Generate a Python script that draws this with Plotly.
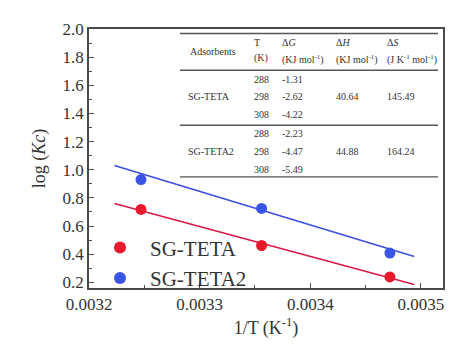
import plotly.graph_objects as go

# ---------------- data ----------------
inv_T = [0.003247, 0.003356, 0.003472]          # 1/T (K^-1) for 308, 298, 288 K
logkc_teta = [0.718, 0.462, 0.239]              # SG-TETA
logkc_teta2 = [0.930, 0.725, 0.408]             # SG-TETA2
fit_x = [0.003223, 0.003494]                    # fitted line extent
fit_teta = [0.761, 0.185]
fit_teta2 = [1.030, 0.384]

series_names = ["SG-TETA", "SG-TETA2"]

# inset table values
tbl_header_T = ["T", "(K)"]
tbl_groups = ["SG-TETA", "SG-TETA2"]
tbl_T = ["288", "298", "308"]
tbl_dG = [["-1.31", "-2.62", "-4.22"], ["-2.23", "-4.47", "-5.49"]]
tbl_dH = ["40.64", "44.88"]
tbl_dS = ["145.49", "164.24"]

RED = "#E8192C"
BLUE = "#3A55E6"
RED_LINE = "#D91A45"
BLUE_LINE = "#3B4FE0"
AX = "#4a4a4a"
TXT = "#333333"
SERIF = "Liberation Serif, Times New Roman, serif"

# page has an 8px body margin: compensate so the plot lands where the reference has it
OFF = 8
W, H = 474 - 2 * OFF, 363 - 2 * OFF
L, R, T, B = 89, 443, 27, 288           # plot area in reference page pixels


def px(x):
    return (x - L) / (R - L)


def py(y):
    return (B - y) / (B - T)


fig = go.Figure()

fig.add_trace(go.Scatter(x=fit_x, y=fit_teta, mode="lines",
                         line=dict(color=RED_LINE, width=1.6),
                         showlegend=False, hoverinfo="skip"))
fig.add_trace(go.Scatter(x=fit_x, y=fit_teta2, mode="lines",
                         line=dict(color=BLUE_LINE, width=1.6),
                         showlegend=False, hoverinfo="skip"))
fig.add_trace(go.Scatter(x=inv_T, y=logkc_teta, mode="markers", name=series_names[0],
                         marker=dict(color=RED, size=11)))
fig.add_trace(go.Scatter(x=inv_T, y=logkc_teta2, mode="markers", name=series_names[1],
                         marker=dict(color=BLUE, size=11)))

# ---------------- inset table ----------------
ann = []
tf = dict(family=SERIF, size=10, color=TXT)


def txt(x, y, s, anchor="left"):
    ann.append(dict(x=px(x), y=py(y), xref="paper", yref="paper", text=s,
                    showarrow=False, xanchor=anchor, yanchor="middle", font=tf))


txt(213, 50, "Adsorbents", "center")
txt(252, 41, tbl_header_T[0])
txt(252, 56, tbl_header_T[1])
txt(280, 41, "Δ<i>G</i>")
txt(280, 58, "(KJ mol<sup>-1</sup>)")
txt(334, 41, "Δ<i>H</i>")
txt(334, 58, "(KJ mol<sup>-1</sup>)")
txt(385, 41, "Δ<i>S</i>")
txt(385, 58, "(J K<sup>-1</sup> mol<sup>-1</sup>)")

row_y = [[78, 95.5, 113.5], [132.5, 150.5, 168.5]]
for g in range(2):
    txt(186, row_y[g][1], tbl_groups[g])
    txt(334, row_y[g][1], tbl_dH[g])
    txt(385, row_y[g][1], tbl_dS[g])
    for i in range(3):
        txt(252, row_y[g][i], tbl_T[i])
        txt(280, row_y[g][i], tbl_dG[g][i])

shapes = []
for yl in [31.5, 68.5, 124, 176]:
    shapes.append(dict(type="line", xref="paper", yref="paper",
                       x0=px(180), x1=px(438), y0=py(yl), y1=py(yl),
                       line=dict(color="#555555", width=1.4)))

fig.update_layout(
    width=W, height=H,
    margin=dict(l=L - OFF, r=W - (R - OFF), t=T - OFF, b=H - (B - OFF)),
    paper_bgcolor="white", plot_bgcolor="white",
    font=dict(family=SERIF, color=TXT),
    annotations=ann, shapes=shapes,
    showlegend=True,
    legend=dict(x=px(90), y=py(227), xanchor="left", yanchor="top",
                bgcolor="rgba(0,0,0,0)", font=dict(family=SERIF, size=21, color=TXT),
                itemsizing="constant", itemwidth=50, tracegroupgap=0),
)

fig.update_xaxes(
    range=[0.0032, 0.00352], tickvals=[0.0032, 0.0033, 0.0034, 0.0035],
    ticktext=["0.0032", "0.0033", "0.0034", "0.0035"],
    ticks="inside", ticklen=5, tickwidth=1.2, tickcolor=AX,
    minor=dict(dtick=0.00005, tick0=0.0032, ticks="inside", ticklen=3, tickcolor=AX),
    showline=True, linecolor=AX, linewidth=1.5, mirror=True,
    showgrid=False, zeroline=False,
    tickfont=dict(family=SERIF, size=17, color=TXT),
    title=dict(text="1/T (K<sup>-1</sup>)", font=dict(family=SERIF, size=18, color=TXT), standoff=8),
)
fig.update_yaxes(
    range=[0.16, 2.0], tickvals=[0.2, 0.4, 0.6, 0.8, 1.0, 1.2, 1.4, 1.6, 1.8, 2.0],
    ticktext=["0.2", "0.4", "0.6", "0.8", "1.0", "1.2", "1.4", "1.6", "1.8", "2.0"],
    ticks="inside", ticklen=5, tickwidth=1.2, tickcolor=AX,
    minor=dict(dtick=0.1, tick0=0.0, ticks="inside", ticklen=3, tickcolor=AX),
    showline=True, linecolor=AX, linewidth=1.5, mirror=True,
    showgrid=False, zeroline=False,
    tickfont=dict(family=SERIF, size=17, color=TXT),
    title=dict(text="log (<i>Kc</i>)", font=dict(family=SERIF, size=18, color=TXT), standoff=12),
)

fig.write_html("out.html")
